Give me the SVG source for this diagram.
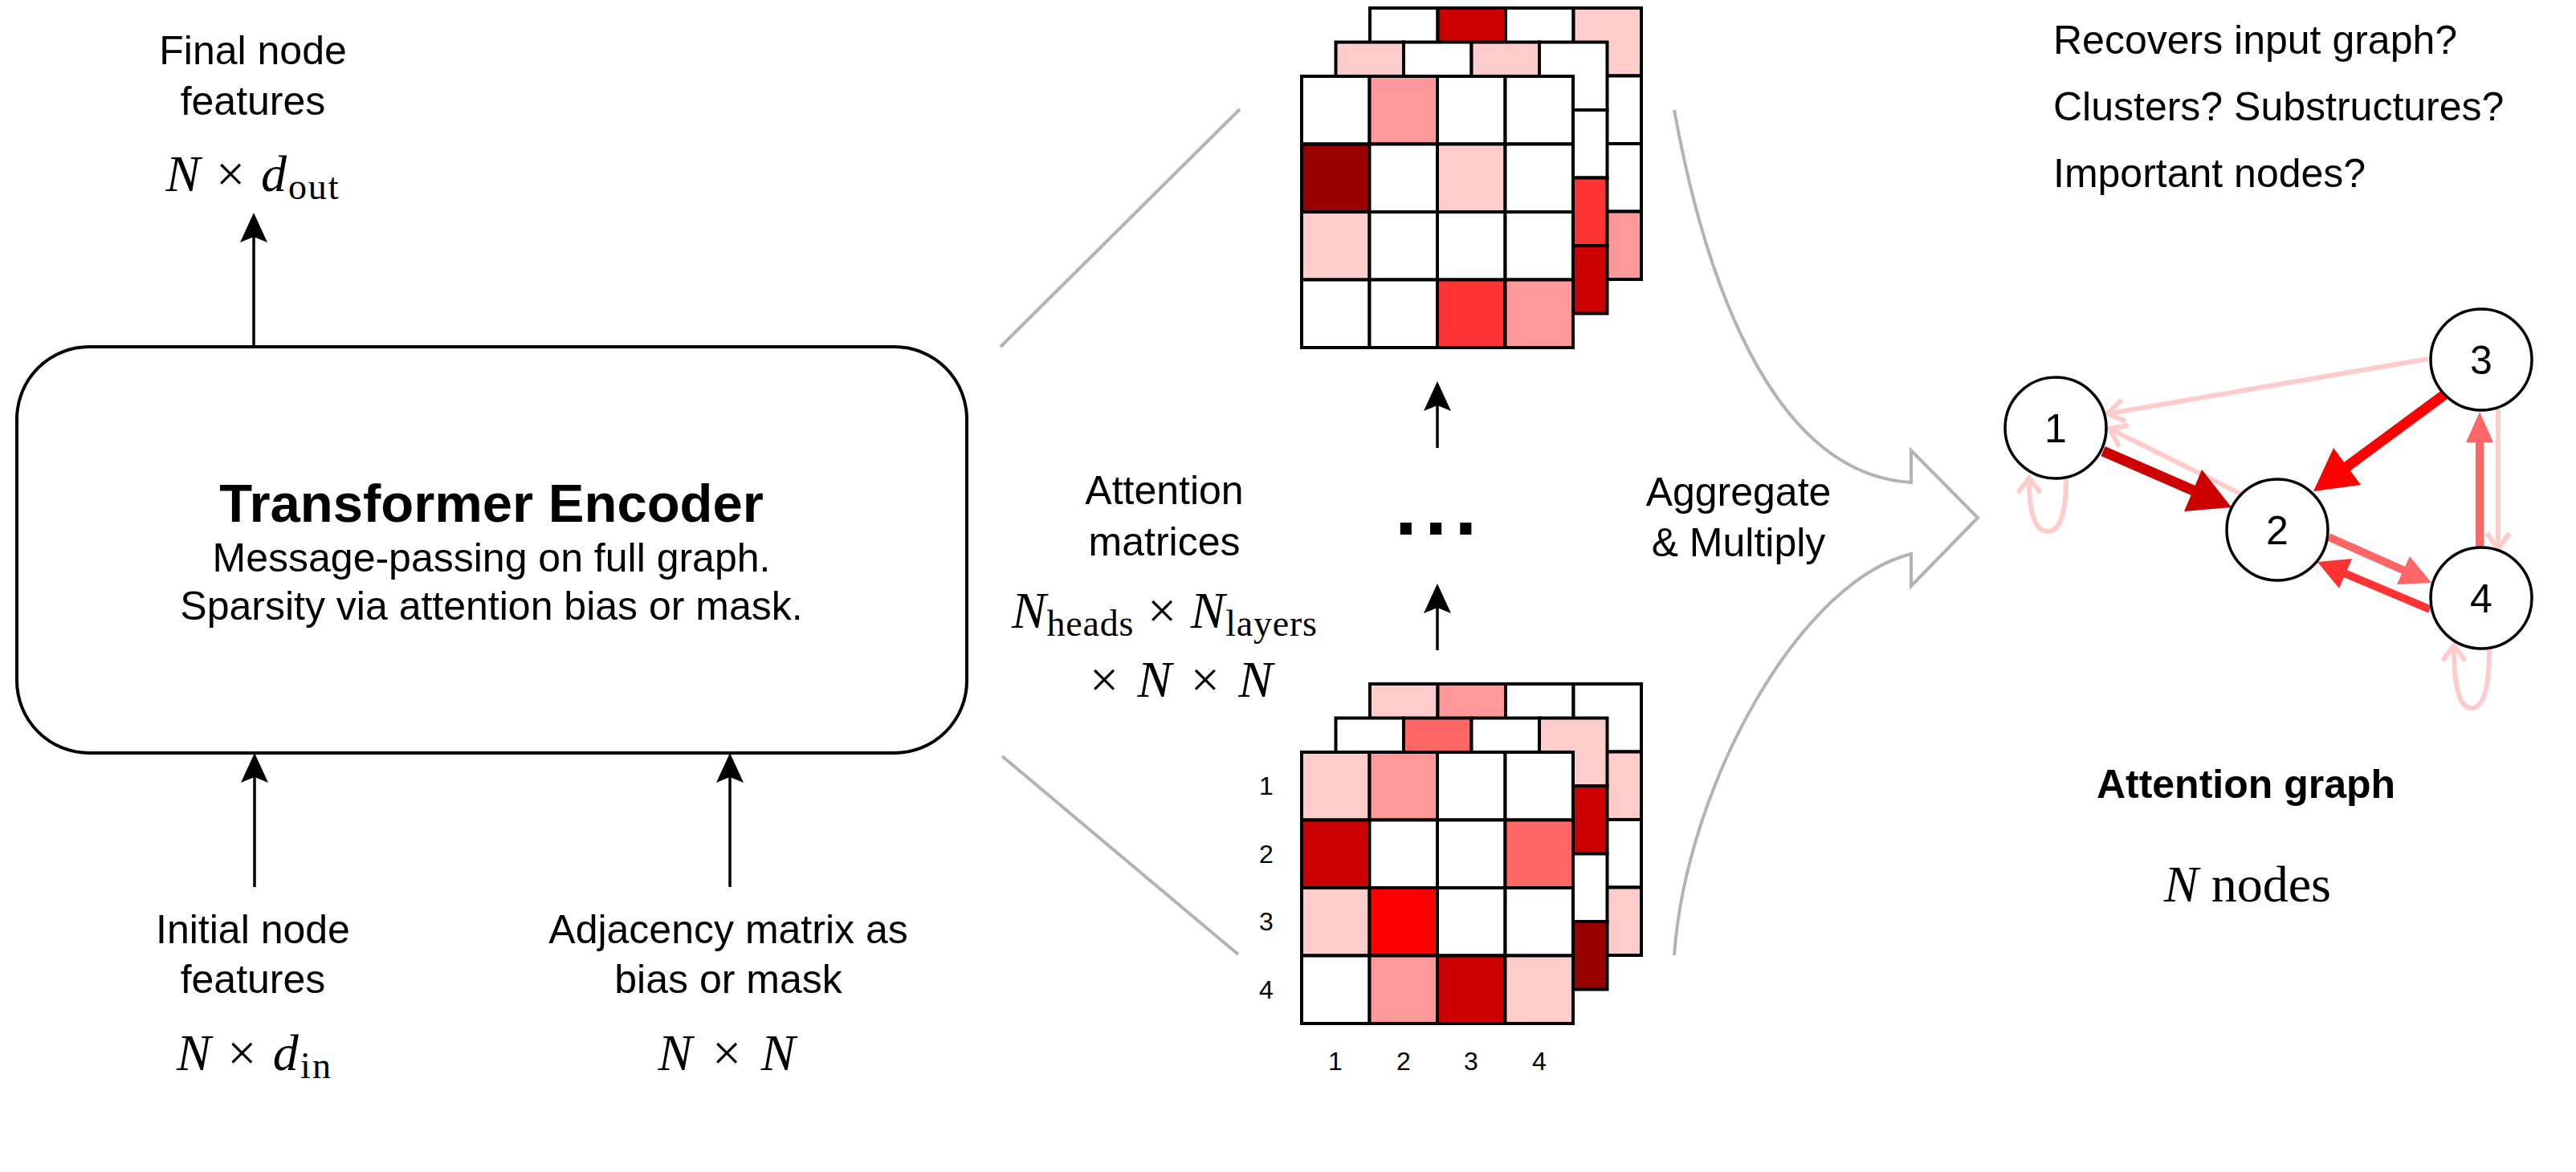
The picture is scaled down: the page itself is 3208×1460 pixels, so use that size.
<svg xmlns="http://www.w3.org/2000/svg" width="3208" height="1460" viewBox="0 0 3208 1460">
<style>
.t{font-family:"Liberation Sans",Arial,Helvetica,sans-serif;font-size:50px;fill:#000}
.b{font-weight:bold}
.title{font-size:67px}
.dots{font-size:100px;letter-spacing:9.5px}
.m{font-family:"Liberation Serif","Times New Roman",serif;font-size:64px;fill:#000}
.i{font-style:italic}
.s{font-size:46px}
.c{stroke:#000;stroke-width:4}
.w{fill:#fff}.p1{fill:#FFCCCC}.p2{fill:#FF9999}.p3{fill:#FF6666}.r1{fill:#FF3333}.r2{fill:#FF0000}.r3{fill:#CC0000}.r4{fill:#990000}
.ln{stroke:#000;stroke-width:3.5;fill:none}
.gr{stroke:#B3B3B3;stroke-width:4;fill:none}
.lt{stroke:#FFCCCC;stroke-width:6;fill:none}
.node{fill:#fff;stroke:#000;stroke-width:3.5}
.nl{font-family:"Liberation Sans",Arial,sans-serif;font-size:50px;text-anchor:middle}
.dg{font-family:"Liberation Sans",Arial,sans-serif;font-size:32px;text-anchor:middle}
</style>
<rect x="0" y="0" width="3208" height="1460" fill="#fff"/>

<!-- Encoder -->
<g id="encoder">
<rect x="21" y="432" width="1183" height="506" rx="90" ry="90" fill="#fff" stroke="#000" stroke-width="4"/>
<text class="t b title" x="612" y="650" text-anchor="middle">Transformer Encoder</text>
<text class="t" x="612" y="712" text-anchor="middle">Message-passing on full graph.</text>
<text class="t" x="612" y="772" text-anchor="middle">Sparsity via attention bias or mask.</text>
</g>

<g id="label-final">
<text class="t" x="315" y="80" text-anchor="middle">Final node</text>
<text class="t" x="315" y="143" text-anchor="middle">features</text>
<text class="m" x="314" y="238" text-anchor="middle" textLength="215" lengthAdjust="spacing"><tspan class="i">N</tspan> × <tspan class="i">d</tspan><tspan class="s" dy="10">out</tspan></text>
</g>

<g id="label-initial">
<text class="t" x="315" y="1175" text-anchor="middle">Initial node</text>
<text class="t" x="315" y="1237" text-anchor="middle">features</text>
<text class="m" x="316" y="1333" text-anchor="middle" textLength="192" lengthAdjust="spacing"><tspan class="i">N</tspan> × <tspan class="i">d</tspan><tspan class="s" dy="10">in</tspan></text>
</g>

<g id="label-adjacency">
<text class="t" x="907" y="1175" text-anchor="middle">Adjacency matrix as</text>
<text class="t" x="907" y="1237" text-anchor="middle">bias or mask</text>
<text class="m" x="905" y="1333" text-anchor="middle" textLength="171" lengthAdjust="spacing"><tspan class="i">N</tspan> × <tspan class="i">N</tspan></text>
</g>

<g id="label-attention-matrices">
<text class="t" x="1450" y="628" text-anchor="middle">Attention</text>
<text class="t" x="1450" y="692" text-anchor="middle">matrices</text>
<text class="m" x="1450" y="782" text-anchor="middle" textLength="380" lengthAdjust="spacing"><tspan class="i">N</tspan><tspan class="s" dy="10">heads</tspan><tspan dy="-10"> × </tspan><tspan class="i">N</tspan><tspan class="s" dy="10">layers</tspan></text>
<text class="m" x="1471" y="868" text-anchor="middle" textLength="228" lengthAdjust="spacing">× <tspan class="i">N</tspan> × <tspan class="i">N</tspan></text>
</g>

<!-- Top matrix stack -->
<g id="matrix-top">
<g transform="translate(1706,10)">
<rect class="c w" x="0" y="0" width="84.5" height="84.5"/><rect class="c r3" x="84.5" y="0" width="84.5" height="84.5"/><rect class="c w" x="169" y="0" width="84.5" height="84.5"/><rect class="c p1" x="253.5" y="0" width="84.5" height="84.5"/>
<rect class="c w" x="253.5" y="84.5" width="84.5" height="84.5"/><rect class="c w" x="253.5" y="169" width="84.5" height="84.5"/><rect class="c p2" x="253.5" y="253.5" width="84.5" height="84.5"/>
</g>
<g transform="translate(1663.5,52.5)">
<rect class="c p1" x="0" y="0" width="84.5" height="84.5"/><rect class="c w" x="84.5" y="0" width="84.5" height="84.5"/><rect class="c p1" x="169" y="0" width="84.5" height="84.5"/><rect class="c w" x="253.5" y="0" width="84.5" height="84.5"/>
<rect class="c w" x="253.5" y="84.5" width="84.5" height="84.5"/><rect class="c r1" x="253.5" y="169" width="84.5" height="84.5"/><rect class="c r3" x="253.5" y="253.5" width="84.5" height="84.5"/>
</g>
<g transform="translate(1621,95)">
<rect class="c w" x="0" y="0" width="84.5" height="84.5"/><rect class="c p2" x="84.5" y="0" width="84.5" height="84.5"/><rect class="c w" x="169" y="0" width="84.5" height="84.5"/><rect class="c w" x="253.5" y="0" width="84.5" height="84.5"/>
<rect class="c r4" x="0" y="84.5" width="84.5" height="84.5"/><rect class="c w" x="84.5" y="84.5" width="84.5" height="84.5"/><rect class="c p1" x="169" y="84.5" width="84.5" height="84.5"/><rect class="c w" x="253.5" y="84.5" width="84.5" height="84.5"/>
<rect class="c p1" x="0" y="169" width="84.5" height="84.5"/><rect class="c w" x="84.5" y="169" width="84.5" height="84.5"/><rect class="c w" x="169" y="169" width="84.5" height="84.5"/><rect class="c w" x="253.5" y="169" width="84.5" height="84.5"/>
<rect class="c w" x="0" y="253.5" width="84.5" height="84.5"/><rect class="c w" x="84.5" y="253.5" width="84.5" height="84.5"/><rect class="c r1" x="169" y="253.5" width="84.5" height="84.5"/><rect class="c p2" x="253.5" y="253.5" width="84.5" height="84.5"/>
</g>
</g>

<!-- Bottom matrix stack -->
<g id="matrix-bottom">
<g transform="translate(1706,852)">
<rect class="c p1" x="0" y="0" width="84.5" height="84.5"/><rect class="c p2" x="84.5" y="0" width="84.5" height="84.5"/><rect class="c w" x="169" y="0" width="84.5" height="84.5"/><rect class="c w" x="253.5" y="0" width="84.5" height="84.5"/>
<rect class="c p1" x="253.5" y="84.5" width="84.5" height="84.5"/><rect class="c w" x="253.5" y="169" width="84.5" height="84.5"/><rect class="c p1" x="253.5" y="253.5" width="84.5" height="84.5"/>
</g>
<g transform="translate(1663.5,894.5)">
<rect class="c w" x="0" y="0" width="84.5" height="84.5"/><rect class="c p3" x="84.5" y="0" width="84.5" height="84.5"/><rect class="c w" x="169" y="0" width="84.5" height="84.5"/><rect class="c p1" x="253.5" y="0" width="84.5" height="84.5"/>
<rect class="c r3" x="253.5" y="84.5" width="84.5" height="84.5"/><rect class="c w" x="253.5" y="169" width="84.5" height="84.5"/><rect class="c r4" x="253.5" y="253.5" width="84.5" height="84.5"/>
</g>
<g transform="translate(1621,937)">
<rect class="c p1" x="0" y="0" width="84.5" height="84.5"/><rect class="c p2" x="84.5" y="0" width="84.5" height="84.5"/><rect class="c w" x="169" y="0" width="84.5" height="84.5"/><rect class="c w" x="253.5" y="0" width="84.5" height="84.5"/>
<rect class="c r3" x="0" y="84.5" width="84.5" height="84.5"/><rect class="c w" x="84.5" y="84.5" width="84.5" height="84.5"/><rect class="c w" x="169" y="84.5" width="84.5" height="84.5"/><rect class="c p3" x="253.5" y="84.5" width="84.5" height="84.5"/>
<rect class="c p1" x="0" y="169" width="84.5" height="84.5"/><rect class="c r2" x="84.5" y="169" width="84.5" height="84.5"/><rect class="c w" x="169" y="169" width="84.5" height="84.5"/><rect class="c w" x="253.5" y="169" width="84.5" height="84.5"/>
<rect class="c w" x="0" y="253.5" width="84.5" height="84.5"/><rect class="c p2" x="84.5" y="253.5" width="84.5" height="84.5"/><rect class="c r3" x="169" y="253.5" width="84.5" height="84.5"/><rect class="c p1" x="253.5" y="253.5" width="84.5" height="84.5"/>
</g>
<text class="dg" x="1577" y="990">1</text>
<text class="dg" x="1577" y="1075">2</text>
<text class="dg" x="1577" y="1159">3</text>
<text class="dg" x="1577" y="1244">4</text>
<text class="dg" x="1663" y="1333">1</text>
<text class="dg" x="1748" y="1333">2</text>
<text class="dg" x="1832" y="1333">3</text>
<text class="dg" x="1917" y="1333">4</text>
</g>

<g id="ellipsis">
<text class="t b dots" x="1737" y="666">...</text>
</g>

<g id="label-aggregate">
<text class="t" x="2165" y="630" text-anchor="middle">Aggregate</text>
<text class="t" x="2165" y="693" text-anchor="middle">&amp; Multiply</text>
</g>

<g id="label-questions">
<text class="t" x="2557" y="67">Recovers input graph?</text>
<text class="t" x="2557" y="150">Clusters? Substructures?</text>
<text class="t" x="2557" y="233">Important nodes?</text>
</g>

<g id="label-attention-graph">
<text class="t b" x="2797" y="994" text-anchor="middle">Attention graph</text>
<text class="m" x="2799" y="1123" text-anchor="middle" textLength="208" lengthAdjust="spacing"><tspan class="i">N</tspan> nodes</text>
</g>

<!-- Connectors -->
<g id="connectors">
<line class="ln" x1="316" y1="432" x2="316" y2="292"/>
<polygon points="316,265 299,302 316,295 333,302" fill="#000"/>
<line class="ln" x1="317" y1="1105" x2="317" y2="965"/>
<polygon points="317,938 300,975 317,968 334,975" fill="#000"/>
<line class="ln" x1="909" y1="1105" x2="909" y2="965"/>
<polygon points="909,938 892,975 909,968 926,975" fill="#000"/>
<line class="ln" x1="1790" y1="558" x2="1790" y2="502"/>
<polygon points="1790,475 1773,512 1790,505 1807,512" fill="#000"/>
<line class="ln" x1="1790" y1="810" x2="1790" y2="754"/>
<polygon points="1790,727 1773,764 1790,757 1807,764" fill="#000"/>
<line class="gr" x1="1246" y1="432" x2="1544" y2="136"/>
<line class="gr" x1="1248" y1="942" x2="1542" y2="1189"/>
<path class="gr" d="M2085,137 C2120,330 2200,590 2380,601 L2380,561 L2463,645 L2380,730 L2380,690 C2240,725 2100,980 2085,1190"/>
<path class="lt" d="M3024,447 L2627,515"/>
<path class="lt" d="M2642,498 L2625,515 L2647,525"/>
<path class="lt" d="M2790,615 L2629,535"/>
<path class="lt" d="M2651,530 L2627,534 L2639,556"/>
<path class="lt" d="M3111,510 L3111,682"/>
<path class="lt" d="M3097,664 L3111,684 L3125,664"/>
<path class="lt" d="M2573,596 C2573,640 2565,662 2550,662 C2535,662 2527,640 2527,600"/>
<path class="lt" d="M2513,614 L2527,595 L2541,614"/>
<path class="lt" d="M3100,807 C3100,860 3092,882 3078,882 C3064,882 3056,860 3056,806"/>
<path class="lt" d="M3042,823 L3056,804 L3070,823"/>
<line x1="2619" y1="562" x2="2736" y2="613" stroke="#CC0000" stroke-width="13"/>
<polygon points="2779,632 2720,637 2742,585" fill="#CC0000"/>
<line x1="3045" y1="491" x2="2919" y2="584" stroke="#FF0000" stroke-width="13"/>
<polygon points="2881,612 2906,558 2940,604" fill="#FF0000"/>
<line x1="2900" y1="669" x2="2997" y2="712" stroke="#FF6666" stroke-width="10"/>
<polygon points="3028,726 2985,728 3001,693" fill="#FF6666"/>
<line x1="3026" y1="759" x2="2917" y2="713" stroke="#FF3333" stroke-width="10"/>
<polygon points="2886,700 2929,696 2913,733" fill="#FF3333"/>
<line x1="3088" y1="682" x2="3088" y2="547" stroke="#FF6666" stroke-width="10"/>
<polygon points="3088,513 3071,551 3105,551" fill="#FF6666"/>
</g>

<g id="node-1"><circle class="node" cx="2560" cy="533" r="63"/><text class="nl" x="2560" y="551">1</text></g>
<g id="node-2"><circle class="node" cx="2836" cy="660" r="63"/><text class="nl" x="2836" y="678">2</text></g>
<g id="node-3"><circle class="node" cx="3090" cy="448" r="63"/><text class="nl" x="3090" y="466">3</text></g>
<g id="node-4"><circle class="node" cx="3090" cy="745" r="63"/><text class="nl" x="3090" y="763">4</text></g>
</svg>
